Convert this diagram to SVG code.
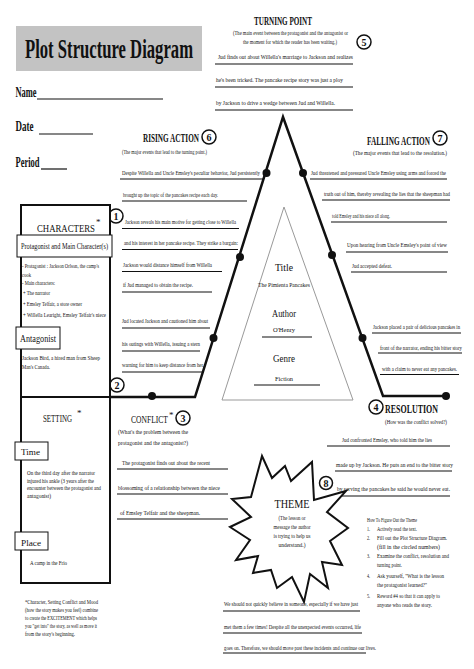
<svg xmlns="http://www.w3.org/2000/svg" width="474" height="669" viewBox="0 0 474 669">
<defs>
<style>
text{font-family:"Liberation Serif","Times New Roman",serif;fill:#111}
.b{font-size:4.8px}
.s{font-size:4.1px}
.h{font-size:7.2px;font-weight:bold}
.num{font-size:10px;font-weight:bold;text-anchor:middle}
.ul{stroke:#111;stroke-width:1.2;fill:none}
.circ{fill:#fff;stroke:#111;stroke-width:1.5}
.box{fill:#fff;stroke:#111;stroke-width:2}
.lbox{fill:#fff;stroke:#111;stroke-width:1}
.dot{fill:#111}
</style>
</defs>
<rect width="474" height="669" fill="#fff"/>

<g id="header">
<rect x="16" y="26" width="186" height="45" fill="#c3c3c3"/>
<text transform="matrix(1 0 0 1.78 25 58)" font-size="15.7" font-weight="bold" textLength="168" lengthAdjust="spacingAndGlyphs">Plot Structure Diagram</text>
<text transform="matrix(1 0 0 1.67 15.5 97)" font-size="8.4" font-weight="bold" textLength="21" lengthAdjust="spacingAndGlyphs">Name</text>
<line class="ul" x1="37" y1="99" x2="163" y2="99"/>
<text transform="matrix(1 0 0 1.67 15.5 131)" font-size="8.4" font-weight="bold" textLength="18" lengthAdjust="spacingAndGlyphs">Date</text>
<line class="ul" x1="39" y1="134" x2="93" y2="134"/>
<text transform="matrix(1 0 0 1.67 15.5 167)" font-size="8.4" font-weight="bold" textLength="24" lengthAdjust="spacingAndGlyphs">Period</text>
<line class="ul" x1="41" y1="169" x2="67" y2="169"/>
</g>

<g id="connectors">
<polyline points="21,397 195,397 283,117 383,396 446,396" fill="none" stroke="#111" stroke-width="2.5" stroke-linejoin="miter"/>
<circle class="dot" cx="152" cy="396" r="4"/>
<circle class="dot" cx="213.5" cy="338" r="4"/>
<circle class="dot" cx="240" cy="257" r="4"/>
<circle class="dot" cx="266.5" cy="173" r="4"/>
<circle class="dot" cx="303" cy="173" r="4"/>
<circle class="dot" cx="332" cy="255" r="4"/>
<circle class="dot" cx="362.5" cy="338" r="4"/>
<circle class="dot" cx="446" cy="396" r="4"/>
</g>

<g id="inner-triangle">
<polygon points="284,207 222,400 353,400" fill="none" stroke="#999" stroke-width="1"/>
<text transform="matrix(1 0 0 1.3 284 271)" font-size="8.5" text-anchor="middle" textLength="18" lengthAdjust="spacingAndGlyphs">Title</text>
<text transform="matrix(1 0 0 1.46 284 287)" class="s" text-anchor="middle" textLength="52" lengthAdjust="spacingAndGlyphs">The Pimienta Pancakes</text>
<text transform="matrix(1 0 0 1.3 284 317)" font-size="8.5" text-anchor="middle" textLength="24" lengthAdjust="spacingAndGlyphs">Author</text>
<text transform="matrix(1 0 0 1.46 284 332)" class="s" text-anchor="middle" textLength="22" lengthAdjust="spacingAndGlyphs">O'Henry</text>
<line class="ul" x1="262" y1="337" x2="312" y2="337"/>
<text transform="matrix(1 0 0 1.3 284 362)" font-size="8.5" text-anchor="middle" textLength="22" lengthAdjust="spacingAndGlyphs">Genre</text>
<text transform="matrix(1 0 0 1.46 284 381)" class="s" text-anchor="middle" textLength="18" lengthAdjust="spacingAndGlyphs">Fiction</text>
<line class="ul" x1="254" y1="385" x2="320" y2="385"/>
</g>

<g id="turning-point">
<text transform="matrix(1 0 0 1.67 254 25)" class="h" font-size="6.6" textLength="58" lengthAdjust="spacingAndGlyphs">TURNING POINT</text>
<text transform="matrix(1 0 0 1.46 233 35)" class="s" textLength="115" lengthAdjust="spacingAndGlyphs">(The main event between the protagonist and the antagonist or</text>
<text transform="matrix(1 0 0 1.46 243 44)" class="s" textLength="94" lengthAdjust="spacingAndGlyphs">the moment for which the reader has been waiting.)</text>
<circle class="circ" cx="364" cy="42" r="7"/>
<text x="364" y="45.5" class="num">5</text>
<text transform="matrix(1 0 0 1.46 218 59)" class="b" textLength="135" lengthAdjust="spacingAndGlyphs">Jud finds out about Willella's marriage to Jackson and realizes</text>
<line class="ul" x1="215" y1="64" x2="353" y2="64"/>
<text transform="matrix(1 0 0 1.46 216 82)" class="b" textLength="127" lengthAdjust="spacingAndGlyphs">he's been tricked. The pancake recipe story was just a ploy</text>
<line class="ul" x1="215" y1="87" x2="353" y2="87"/>
<text transform="matrix(1 0 0 1.46 216 105)" class="b" textLength="119" lengthAdjust="spacingAndGlyphs">by Jackson to drive a wedge between Jud and Willella.</text>
<line class="ul" x1="215" y1="110" x2="353" y2="110"/>
</g>

<g id="rising-action">
<text transform="matrix(1 0 0 1.67 143 142)" class="h" textLength="56" lengthAdjust="spacingAndGlyphs">RISING ACTION</text>
<circle class="circ" cx="209" cy="137" r="7"/>
<text x="209" y="140.5" class="num">6</text>
<text transform="matrix(1 0 0 1.46 122 154)" class="s" textLength="85" lengthAdjust="spacingAndGlyphs">(The major events that lead to the turning point.)</text>
<text transform="matrix(1 0 0 1.46 122 175)" class="b" textLength="138" lengthAdjust="spacingAndGlyphs">Despite Willella and Uncle Emsley's peculiar behavior, Jud persistently</text>
<line class="ul" x1="120" y1="179" x2="263" y2="179"/>
<text transform="matrix(1 0 0 1.46 123 197)" class="b" textLength="95" lengthAdjust="spacingAndGlyphs">brought up the topic of the pancakes recipe each day.</text>
<line class="ul" x1="122" y1="201" x2="247" y2="201"/>
<circle class="circ" cx="116" cy="216" r="7"/>
<text x="116" y="219.5" class="num">1</text>
<text transform="matrix(1 0 0 1.46 125 224)" class="b" textLength="111" lengthAdjust="spacingAndGlyphs">Jackson reveals his main motive for getting close to Willella</text>
<line class="ul" x1="122" y1="228.5" x2="239" y2="228.5"/>
<text transform="matrix(1 0 0 1.46 124 245)" class="b" textLength="114" lengthAdjust="spacingAndGlyphs">and his interest in her pancake recipe. They strike a bargain:</text>
<line class="ul" x1="122" y1="249.5" x2="238" y2="249.5"/>
<text transform="matrix(1 0 0 1.46 123 267)" class="b" textLength="89" lengthAdjust="spacingAndGlyphs">Jackson would distance himself from Willella</text>
<line class="ul" x1="122" y1="271.5" x2="222" y2="271.5"/>
<text transform="matrix(1 0 0 1.46 123 287)" class="b" textLength="70" lengthAdjust="spacingAndGlyphs">if Jud managed to obtain the recipe.</text>
<line class="ul" x1="122" y1="292" x2="212" y2="292"/>
<text transform="matrix(1 0 0 1.46 122 323)" class="b" textLength="86" lengthAdjust="spacingAndGlyphs">Jud located Jackson and cautioned him about</text>
<line class="ul" x1="122" y1="328" x2="210" y2="328"/>
<text transform="matrix(1 0 0 1.46 122 346)" class="b" textLength="78" lengthAdjust="spacingAndGlyphs">his outings with Willella, issuing a stern</text>
<line class="ul" x1="122" y1="351" x2="200" y2="351"/>
<text transform="matrix(1 0 0 1.46 122 367)" class="b" textLength="82" lengthAdjust="spacingAndGlyphs">warning for him to keep distance from her.</text>
<line class="ul" x1="122" y1="372" x2="204" y2="372"/>
<circle class="circ" cx="117" cy="385" r="7"/>
<text x="117" y="388.5" class="num">2</text>
</g>

<g id="falling-action">
<text transform="matrix(1 0 0 1.67 367 145)" class="h" textLength="63" lengthAdjust="spacingAndGlyphs">FALLING ACTION</text>
<circle class="circ" cx="440" cy="138" r="7"/>
<text x="440" y="141.5" class="num">7</text>
<text transform="matrix(1 0 0 1.46 353 155)" class="s" textLength="94" lengthAdjust="spacingAndGlyphs">(The major events that lead to the resolution.)</text>
<text transform="matrix(1 0 0 1.46 311 175)" class="b" textLength="135" lengthAdjust="spacingAndGlyphs">Jud threatened and pressured Uncle Emsley using arms and forced the</text>
<line class="ul" x1="310" y1="179" x2="447" y2="179"/>
<text transform="matrix(1 0 0 1.46 324 196)" class="b" textLength="126" lengthAdjust="spacingAndGlyphs">truth out of him, thereby revealing the lies that the sheepman had</text>
<line class="ul" x1="322" y1="200" x2="450" y2="200"/>
<text transform="matrix(1 0 0 1.46 332 218)" class="b" textLength="58" lengthAdjust="spacingAndGlyphs">told Emsley and his niece all along.</text>
<line class="ul" x1="331" y1="222" x2="447" y2="222"/>
<text transform="matrix(1 0 0 1.46 347 247)" class="b" textLength="100" lengthAdjust="spacingAndGlyphs">Upon hearing from Uncle Emsley's point of view</text>
<line class="ul" x1="346" y1="252" x2="448" y2="252"/>
<text transform="matrix(1 0 0 1.46 352 268)" class="b" textLength="40" lengthAdjust="spacingAndGlyphs">Jud accepted defeat.</text>
<line class="ul" x1="351" y1="272" x2="447" y2="272"/>
<text transform="matrix(1 0 0 1.46 373 329)" class="b" textLength="87" lengthAdjust="spacingAndGlyphs">Jackson placed a pair of delicious pancakes in</text>
<line class="ul" x1="372" y1="333" x2="461" y2="333"/>
<text transform="matrix(1 0 0 1.46 380 350)" class="b" textLength="82" lengthAdjust="spacingAndGlyphs">front of the narrator, ending his bitter story</text>
<line class="ul" x1="378" y1="353" x2="462" y2="353"/>
<text transform="matrix(1 0 0 1.46 382 371)" class="b" textLength="75" lengthAdjust="spacingAndGlyphs">with a claim to never eat any pancakes.</text>
<line class="ul" x1="380" y1="374.5" x2="459" y2="374.5"/>
</g>

<g id="resolution">
<circle class="circ" cx="376" cy="407" r="7"/>
<text x="376" y="410.5" class="num">4</text>
<text transform="matrix(1 0 0 1.67 385 413)" class="h" textLength="53" lengthAdjust="spacingAndGlyphs">RESOLUTION</text>
<text transform="matrix(1 0 0 1.46 385 424)" class="s" textLength="62" lengthAdjust="spacingAndGlyphs">(How was the conflict solved?)</text>
<text transform="matrix(1 0 0 1.46 342 442)" class="b" textLength="90" lengthAdjust="spacingAndGlyphs">Jud confronted Emsley, who told him the lies</text>
<line class="ul" x1="327" y1="446" x2="450" y2="446"/>
<text transform="matrix(1 0 0 1.46 336 467)" class="b" textLength="117" lengthAdjust="spacingAndGlyphs">made up by Jackson. He puts an end to the bitter story</text>
<line class="ul" x1="335" y1="471" x2="452" y2="471"/>
<text transform="matrix(1 0 0 1.46 337 491)" class="b" textLength="113" lengthAdjust="spacingAndGlyphs">by serving the pancakes he said he would never eat.</text>
<line class="ul" x1="336" y1="496" x2="450" y2="496"/>
</g>

<g id="characters">
<rect class="box" x="21" y="205" width="89" height="192"/>
<text transform="matrix(1 0 0 1.3 37 232)" font-size="8.5" textLength="58" lengthAdjust="spacingAndGlyphs">CHARACTERS</text>
<text x="96" y="225" font-size="9">*</text>
<rect class="lbox" x="17" y="235" width="95" height="22"/>
<text transform="matrix(1 0 0 1.43 21 249)" font-size="5.6" textLength="87" lengthAdjust="spacingAndGlyphs">Protagonist and Main Character(s)</text>
<text transform="matrix(1 0 0 1.46 22 268)" class="s" textLength="77" lengthAdjust="spacingAndGlyphs">- Protagonist : Jackson Orlson, the camp's</text>
<text transform="matrix(1 0 0 1.46 22 277)" class="s" textLength="9" lengthAdjust="spacingAndGlyphs">cook</text>
<text transform="matrix(1 0 0 1.46 22 285)" class="s" textLength="33" lengthAdjust="spacingAndGlyphs">- Main characters:</text>
<text transform="matrix(1 0 0 1.46 23 295)" class="s" textLength="27" lengthAdjust="spacingAndGlyphs">+ The narrator</text>
<text transform="matrix(1 0 0 1.46 23 306)" class="s" textLength="59" lengthAdjust="spacingAndGlyphs">+ Emsley Telfair, a store owner</text>
<text transform="matrix(1 0 0 1.46 23 317)" class="s" textLength="83" lengthAdjust="spacingAndGlyphs">+ Willella Learight, Emsley Telfair's niece</text>
<rect class="lbox" x="16" y="327" width="44" height="22"/>
<text transform="matrix(1 0 0 1.2 20 342)" font-size="8.4" textLength="36" lengthAdjust="spacingAndGlyphs">Antagonist</text>
<text transform="matrix(1 0 0 1.46 22 360)" class="s" textLength="78" lengthAdjust="spacingAndGlyphs">Jackson Bird, a hired man from Sheep</text>
<text transform="matrix(1 0 0 1.46 22 369)" class="s" textLength="28" lengthAdjust="spacingAndGlyphs">Man's Canada.</text>
</g>

<g id="setting">
<rect class="box" x="21" y="397" width="89" height="186"/>
<text transform="matrix(1 0 0 1.67 43 422)" font-size="6" textLength="29" lengthAdjust="spacingAndGlyphs">SETTING</text>
<text x="77" y="416" font-size="9">*</text>
<rect class="lbox" x="15" y="442" width="33" height="18"/>
<text transform="matrix(1 0 0 1.2 21 455)" font-size="7.5" textLength="19" lengthAdjust="spacingAndGlyphs">Time</text>
<text transform="matrix(1 0 0 1.46 27 475)" class="s" textLength="68" lengthAdjust="spacingAndGlyphs">On the third day after the narrator</text>
<text transform="matrix(1 0 0 1.46 27 483)" class="s" textLength="67" lengthAdjust="spacingAndGlyphs">injured his ankle (3 years after the</text>
<text transform="matrix(1 0 0 1.46 27 490)" class="s" textLength="74" lengthAdjust="spacingAndGlyphs">encounter between the protagonist and</text>
<text transform="matrix(1 0 0 1.46 27 498)" class="s" textLength="24" lengthAdjust="spacingAndGlyphs">antagonist)</text>
<rect class="lbox" x="15" y="532" width="33" height="18"/>
<text transform="matrix(1 0 0 1.2 21 546)" font-size="7.5" textLength="20" lengthAdjust="spacingAndGlyphs">Place</text>
<text transform="matrix(1 0 0 1.46 30 565)" class="s" textLength="37" lengthAdjust="spacingAndGlyphs">A camp in the Frio</text>
<text transform="matrix(1 0 0 1.46 25 604)" class="s" textLength="73" lengthAdjust="spacingAndGlyphs">*Character, Setting Conflict and Mood</text>
<text transform="matrix(1 0 0 1.46 25 612)" class="s" textLength="73" lengthAdjust="spacingAndGlyphs">(how the story makes you feel) combine</text>
<text transform="matrix(1 0 0 1.46 25 620)" class="s" textLength="72" lengthAdjust="spacingAndGlyphs">to create the EXCITEMENT which helps</text>
<text transform="matrix(1 0 0 1.46 25 628)" class="s" textLength="72" lengthAdjust="spacingAndGlyphs">you "get into" the story, as well as move it</text>
<text transform="matrix(1 0 0 1.46 25 636)" class="s" textLength="50" lengthAdjust="spacingAndGlyphs">from the story's beginning.</text>
</g>

<g id="conflict">
<text transform="matrix(1 0 0 1.5 131 423)" font-size="7.3" textLength="37" lengthAdjust="spacingAndGlyphs">CONFLICT</text>
<text x="169" y="418" font-size="9">*</text>
<circle class="circ" cx="183" cy="418" r="7"/>
<text x="183" y="421.5" class="num">3</text>
<text transform="matrix(1 0 0 1.46 118 434)" class="s" textLength="70" lengthAdjust="spacingAndGlyphs">(What's the problem between the</text>
<text transform="matrix(1 0 0 1.46 118 445)" class="s" textLength="70" lengthAdjust="spacingAndGlyphs">protagonist and the antagonist?)</text>
<text transform="matrix(1 0 0 1.46 122 465)" class="b" textLength="88" lengthAdjust="spacingAndGlyphs">The protagonist finds out about the recent</text>
<line class="ul" x1="117" y1="469" x2="228" y2="469"/>
<text transform="matrix(1 0 0 1.46 118 490)" class="b" textLength="102" lengthAdjust="spacingAndGlyphs">blossoming of a relationship between the niece</text>
<line class="ul" x1="117" y1="494" x2="228" y2="494"/>
<text transform="matrix(1 0 0 1.46 120 515)" class="b" textLength="80" lengthAdjust="spacingAndGlyphs">of Emsley Telfair and the sheepman.</text>
<line class="ul" x1="117" y1="519" x2="228" y2="519"/>
</g>

<g id="theme">
<polygon points="262,456 272,478 285,466 291,481 312,462 314,500 346,491 327,512 348,528 330,541 342,565 322,562 328,588 310,574 304,602 292,577 277,588 271,570 253,573 258,556 236,560 250,540 230,527 251,517 232,499 251,497" fill="#fff" stroke="#111" stroke-width="2" stroke-linejoin="miter"/>
<circle class="circ" cx="326" cy="483" r="6.5"/>
<text x="326" y="486.5" class="num">8</text>
<text transform="matrix(1 0 0 1.3 292 508)" font-size="10" text-anchor="middle" textLength="35" lengthAdjust="spacingAndGlyphs">THEME</text>
<text transform="matrix(1 0 0 1.46 292 520)" class="s" text-anchor="middle" textLength="27" lengthAdjust="spacingAndGlyphs">(The lesson or</text>
<text transform="matrix(1 0 0 1.46 292 529)" class="s" text-anchor="middle" textLength="37" lengthAdjust="spacingAndGlyphs">message the author</text>
<text transform="matrix(1 0 0 1.46 292 538)" class="s" text-anchor="middle" textLength="37" lengthAdjust="spacingAndGlyphs">is trying to help us</text>
<text transform="matrix(1 0 0 1.46 292 547)" class="s" text-anchor="middle" textLength="27" lengthAdjust="spacingAndGlyphs">understand.)</text>
<text transform="matrix(1 0 0 1.46 224 606)" class="b" textLength="134" lengthAdjust="spacingAndGlyphs">We should not quickly believe in someone, especially if we have just</text>
<line class="ul" x1="223" y1="611" x2="360" y2="611"/>
<text transform="matrix(1 0 0 1.46 224 629)" class="b" textLength="137" lengthAdjust="spacingAndGlyphs">met them a few times! Despite all the unexpected events occurred, life</text>
<line class="ul" x1="223" y1="633" x2="362" y2="633"/>
<text transform="matrix(1 0 0 1.46 224 650)" class="b" textLength="152" lengthAdjust="spacingAndGlyphs">goes on. Therefore, we should move past these incidents and continue our lives.</text>
<line class="ul" x1="223" y1="653" x2="366" y2="653"/>
</g>

<g id="how-to">
<text transform="matrix(1 0 0 1.46 367 522)" class="s" textLength="50" lengthAdjust="spacingAndGlyphs">How To Figure Out the Theme</text>
<text transform="matrix(1 0 0 1.46 367 531)" class="s">1.</text>
<text transform="matrix(1 0 0 1.46 377 531)" class="s" textLength="40" lengthAdjust="spacingAndGlyphs">Actively read the text.</text>
<text transform="matrix(1 0 0 1.46 367 540)" class="s">2.</text>
<text transform="matrix(1 0 0 1.46 377 540)" class="s" textLength="70" lengthAdjust="spacingAndGlyphs">Fill out the Plot Structure Diagram.</text>
<text transform="matrix(1 0 0 1.46 377 549)" class="s" textLength="63" lengthAdjust="spacingAndGlyphs">(fill in the circled numbers)</text>
<text transform="matrix(1 0 0 1.46 367 558)" class="s">3.</text>
<text transform="matrix(1 0 0 1.46 377 558)" class="s" textLength="72" lengthAdjust="spacingAndGlyphs">Examine the conflict, resolution and</text>
<text transform="matrix(1 0 0 1.46 377 567)" class="s" textLength="25" lengthAdjust="spacingAndGlyphs">turning point.</text>
<text transform="matrix(1 0 0 1.46 367 578)" class="s">4.</text>
<text transform="matrix(1 0 0 1.46 377 578)" class="s" textLength="67" lengthAdjust="spacingAndGlyphs">Ask yourself, "What is the lesson</text>
<text transform="matrix(1 0 0 1.46 377 587)" class="s" textLength="50" lengthAdjust="spacingAndGlyphs">the protagonist learned?"</text>
<text transform="matrix(1 0 0 1.46 367 598)" class="s">5.</text>
<text transform="matrix(1 0 0 1.46 377 598)" class="s" textLength="63" lengthAdjust="spacingAndGlyphs">Reword #4 so that it can apply to</text>
<text transform="matrix(1 0 0 1.46 377 607)" class="s" textLength="55" lengthAdjust="spacingAndGlyphs">anyone who reads the story.</text>
</g>
</svg>
